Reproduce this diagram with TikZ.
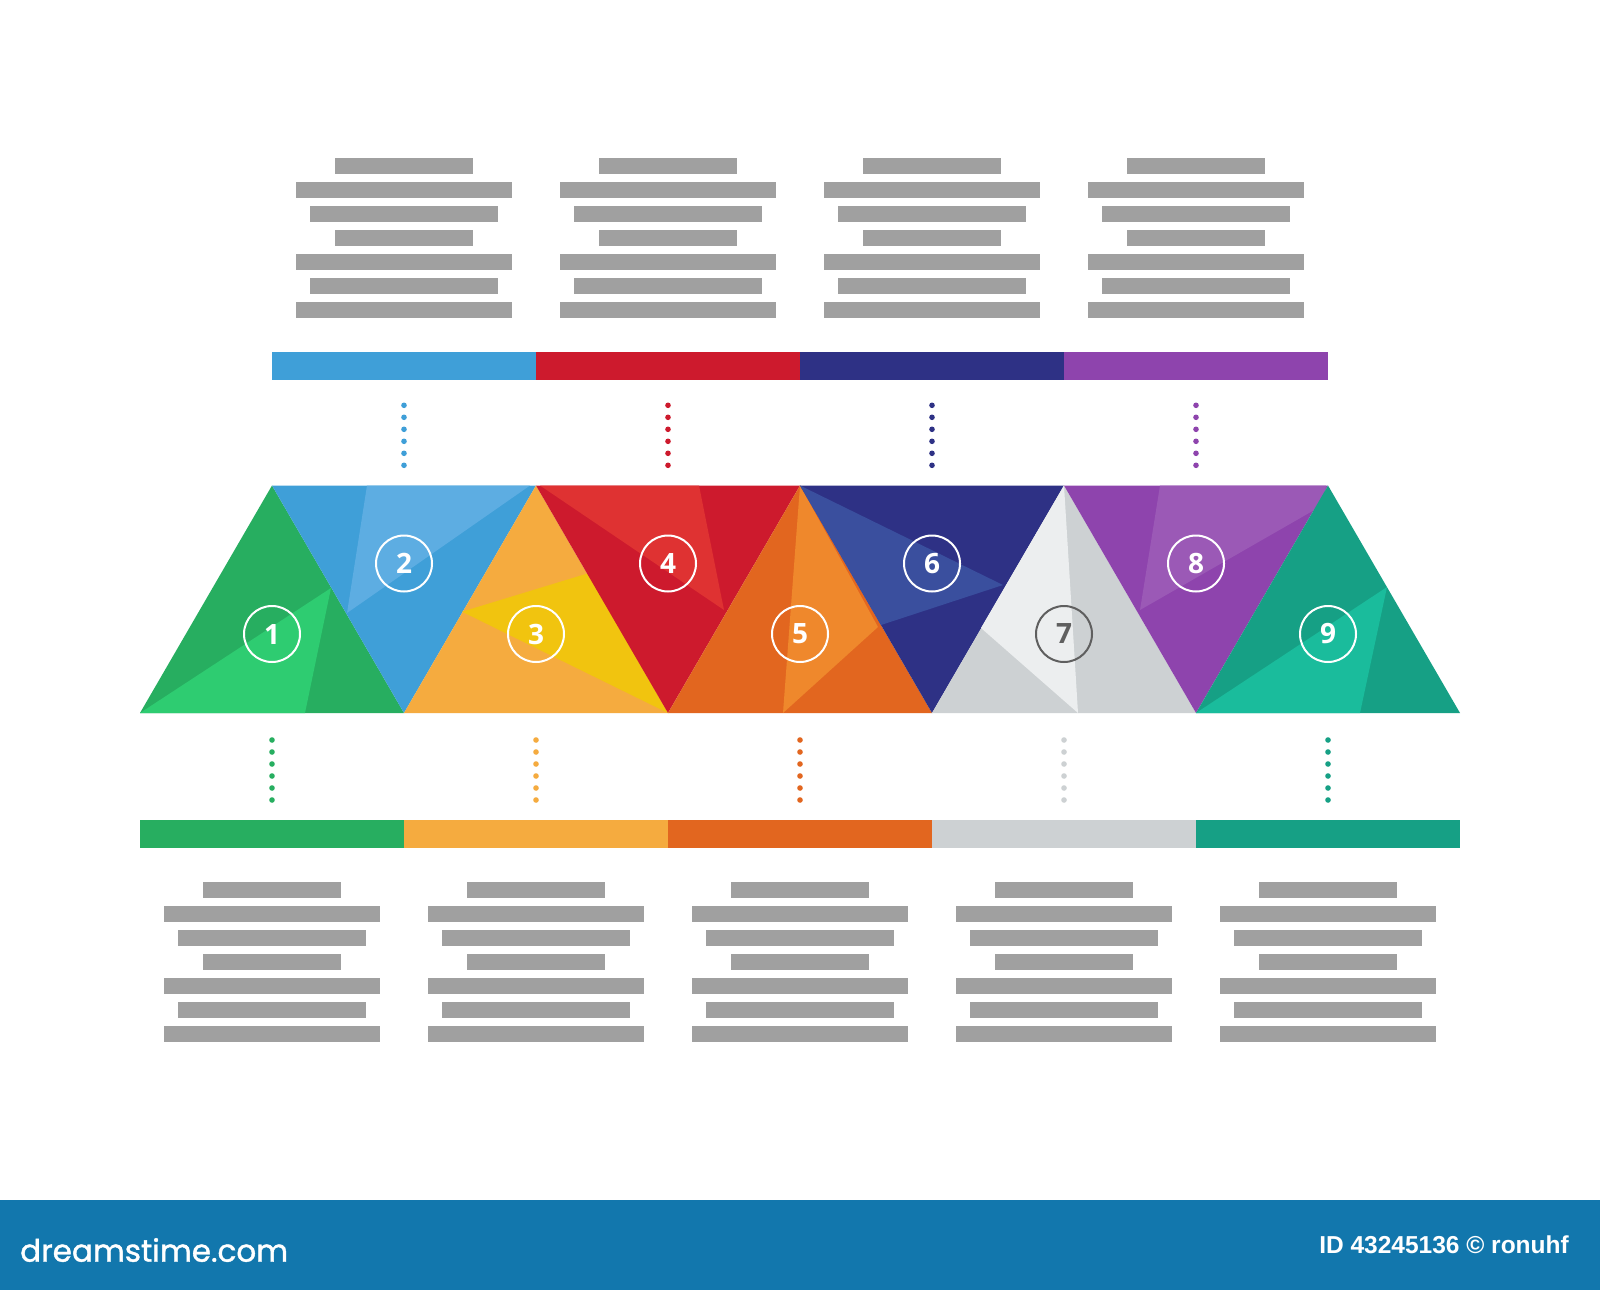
\documentclass[tikz,border=0pt]{standalone}
\usepackage{fontspec}
\setmainfont{Open Sans}
\newfontfamily\popfont{Poppins}[FakeBold=1.3]
\newfontfamily\arialfont{Liberation Sans}
\definecolor{cGrayBar}{HTML}{A0A0A0}
\definecolor{cBlue}{HTML}{3F9FD8}
\definecolor{cBlueL}{HTML}{5DADE2}
\definecolor{cRed}{HTML}{CD1A2D}
\definecolor{cRedL}{HTML}{DF3232}
\definecolor{cNavy}{HTML}{2E3185}
\definecolor{cNavyL}{HTML}{3A4F9E}
\definecolor{cPurple}{HTML}{8E44AD}
\definecolor{cPurpleL}{HTML}{9B59B6}
\definecolor{cGreen}{HTML}{27AE60}
\definecolor{cGreenL}{HTML}{2ECC71}
\definecolor{cAmber}{HTML}{F5AB3F}
\definecolor{cYellow}{HTML}{F1C40F}
\definecolor{cOrange}{HTML}{E2661F}
\definecolor{cOrangeL}{HTML}{EF882C}
\definecolor{cSilver}{HTML}{CDD1D3}
\definecolor{cSilverL}{HTML}{ECEEEF}
\definecolor{cTeal}{HTML}{16A085}
\definecolor{cTealL}{HTML}{1ABC9C}
\definecolor{cFooter}{HTML}{1277AD}
\definecolor{cDark}{HTML}{5F5F5F}
\newcommand\txtblock[2]{%
  \foreach \w [count=\i from 0] in {138,216,188,138,216,188,216}{%
    \fill[cGrayBar] ({#1-\w/2},{#2+24*\i}) rectangle ++(\w,16);}}
\begin{document}
\begin{tikzpicture}[x=1pt,y=-1pt,
  barseg/.style={rectangle, inner sep=0pt, outer sep=0pt, draw=none, minimum width=264pt, minimum height=27.5pt},
  dotline/.style={line width=5.6pt, line cap=round, dash pattern=on 0pt off 12pt},
  numcirc/.style={circle, draw=white, line width=2pt, minimum size=56pt, inner sep=0pt, text=white, font=\fontsize{28}{28}\selectfont\bfseries},
]
\useasboundingbox (0,0) rectangle (1600,1290);
\fill[white] (0,0) rectangle (1600,1290);

% text placeholder blocks
\foreach \cx in {404,668,932,1196}{\txtblock{\cx}{157.7}}
\foreach \cx in {272,536,800,1064,1328}{\txtblock{\cx}{881.7}}

% top bar
\node[barseg, fill=cBlue]   (tb1) at (404,365.75) {};
\node[barseg, fill=cRed]    (tb2) at (668,365.75) {};
\node[barseg, fill=cNavy]   (tb3) at (932,365.75) {};
\node[barseg, fill=cPurple] (tb4) at (1196,365.75) {};
% bottom bar
\node[barseg, fill=cGreen]  (bb1) at (272,833.75) {};
\node[barseg, fill=cAmber]  (bb2) at (536,833.75) {};
\node[barseg, fill=cOrange] (bb3) at (800,833.75) {};
\node[barseg, fill=cSilver] (bb4) at (1064,833.75) {};
\node[barseg, fill=cTeal]   (bb5) at (1328,833.75) {};

% triangles
% 1 green
\fill[cGreen] (140,713) -- (272,485.5) -- (404,713) -- cycle;
\fill[cGreenL] (140,713) -- (331,588) -- (305,713) -- cycle;
% 2 blue
\fill[cBlue] (272,485.5) -- (536,485.5) -- (404,713) -- cycle;
\fill[cBlueL] (367,485.5) -- (530,485.5) -- (347,613) -- cycle;
% 3 amber
\fill[cAmber] (404,713) -- (536,485.5) -- (668,713) -- cycle;
\fill[cYellow] (462,611.7) -- (588,573.3) -- (668,713) -- cycle;
% 4 red
\fill[cRed] (536,485.5) -- (800,485.5) -- (668,713) -- cycle;
\fill[cRedL] (540,485.5) -- (699,485.5) -- (724,610) -- cycle;
% 5 orange
\fill[cOrange] (668,713) -- (800,485.5) -- (932,713) -- cycle;
\fill[cOrangeL] (800,485.5) -- (878,627) -- (783,713) -- cycle;
% 6 navy
\fill[cNavy] (800,485.5) -- (1064,485.5) -- (932,713) -- cycle;
\fill[cNavyL] (800,485.5) -- (1003,585) -- (881,625) -- cycle;
% 7 silver
\fill[cSilver] (932,713) -- (1064,485.5) -- (1196,713) -- cycle;
\fill[cSilverL] (1064,485.5) -- (981,628) -- (1078,713) -- cycle;
% 8 purple
\fill[cPurple] (1064,485.5) -- (1328,485.5) -- (1196,713) -- cycle;
\fill[cPurpleL] (1160,485.5) -- (1326,485.5) -- (1323,505) -- (1140,610) -- cycle;
% 9 teal
\fill[cTeal] (1196,713) -- (1328,485.5) -- (1460,713) -- cycle;
\fill[cTealL] (1196,713) -- (1387,587) -- (1360,713) -- cycle;

% number circles
\node[numcirc] (n1) at (272,634) {1};
\node[numcirc] (n2) at (404,563.5) {2};
\node[numcirc] (n3) at (536,634) {3};
\node[numcirc] (n4) at (668,563.5) {4};
\node[numcirc] (n5) at (800,634) {5};
\node[numcirc] (n6) at (932,563.5) {6};
\node[numcirc, draw=cDark, text=cDark] (n7) at (1064,634) {7};
\node[numcirc] (n8) at (1196,563.5) {8};
\node[numcirc] (n9) at (1328,634) {9};

% dotted connectors (top)
\coordinate (ta1) at (404,405.3);  \coordinate (tz1) at (404,465.5);
\coordinate (ta2) at (668,405.3);  \coordinate (tz2) at (668,465.5);
\coordinate (ta3) at (932,405.3);  \coordinate (tz3) at (932,465.5);
\coordinate (ta4) at (1196,405.3); \coordinate (tz4) at (1196,465.5);
\draw[dotline, cBlue]   (ta1) -- (tz1);
\draw[dotline, cRed]    (ta2) -- (tz2);
\draw[dotline, cNavy]   (ta3) -- (tz3);
\draw[dotline, cPurple] (ta4) -- (tz4);
% dotted connectors (bottom)
\coordinate (ba1) at (272,740);  \coordinate (bz1) at (272,800.2);
\coordinate (ba2) at (536,740);  \coordinate (bz2) at (536,800.2);
\coordinate (ba3) at (800,740);  \coordinate (bz3) at (800,800.2);
\coordinate (ba4) at (1064,740); \coordinate (bz4) at (1064,800.2);
\coordinate (ba5) at (1328,740); \coordinate (bz5) at (1328,800.2);
\draw[dotline, cGreen]  (ba1) -- (bz1);
\draw[dotline, cAmber]  (ba2) -- (bz2);
\draw[dotline, cOrange] (ba3) -- (bz3);
\draw[dotline, cSilver] (ba4) -- (bz4);
\draw[dotline, cTeal]   (ba5) -- (bz5);

% footer
\fill[cFooter] (0,1200) rectangle (1600,1290);
\node[anchor=base west, inner sep=0pt, text=white, font=\popfont\fontsize{31}{31}\selectfont] (logo) at (20,1261.7) {dreamstime.com};
\node[anchor=base east, inner sep=0pt, text=white, font=\arialfont\bfseries\fontsize{24.5}{24.5}\selectfont] (credit) at (1569,1253.3) {ID 43245136 © ronuhf};
\end{tikzpicture}
\end{document}
